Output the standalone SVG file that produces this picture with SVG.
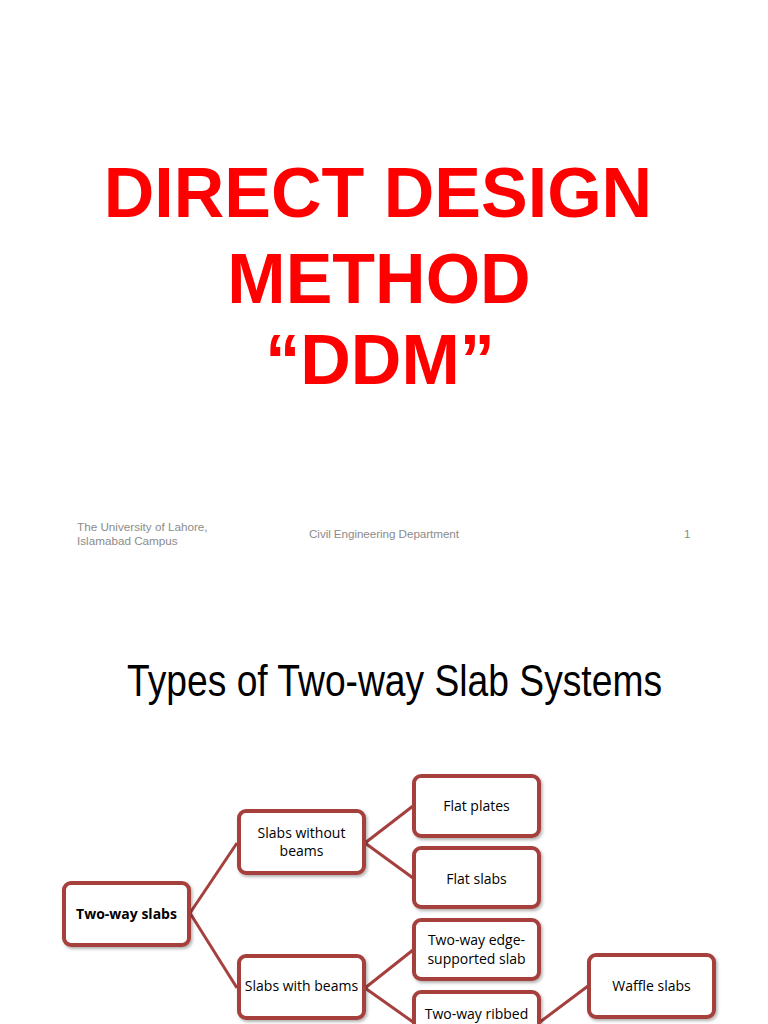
<svg xmlns="http://www.w3.org/2000/svg" width="768" height="1024" viewBox="0 0 768 1024">
<defs>
<filter id="sh" x="-10%" y="-10%" width="125%" height="130%">
<feDropShadow dx="1.5" dy="2" stdDeviation="1.5" flood-color="#000" flood-opacity="0.3"/>
</filter>
</defs>
<style>
.title{font-family:"Liberation Sans",Arial,sans-serif;font-weight:bold;font-size:70px;fill:#ff0000;text-anchor:middle}
.foot{font-family:"Liberation Sans",Arial,sans-serif;font-size:11.7px;fill:#8c8c8c}
.sub{font-family:"Liberation Sans",Arial,sans-serif;font-size:44px;fill:#000}
.box{fill:#fff;stroke:#a5403e;stroke-width:4;filter:url(#sh)}
.lbl{font-family:"Open Sans","Liberation Sans",sans-serif;font-size:14px;fill:#000;text-anchor:middle}
.conn{stroke:#a5403e;stroke-width:3;fill:none}
</style>
<rect width="768" height="1024" fill="#fff"/>
<text class="title" x="378" y="217">DIRECT DESIGN</text>
<text class="title" x="379" y="303">METHOD</text>
<text class="title" x="380" y="384">“DDM”</text>
<text class="foot" x="77" y="531">The University of Lahore,</text>
<text class="foot" x="77" y="545">Islamabad Campus</text>
<text class="foot" x="309" y="538" textLength="150">Civil Engineering Department</text>
<text class="foot" x="684" y="538">1</text>
<text class="sub" x="127" y="696" textLength="535" lengthAdjust="spacingAndGlyphs">Types of Two-way Slab Systems</text>
<g id="connectors">
<line class="conn" x1="190" y1="913" x2="237" y2="843"/>
<line class="conn" x1="190" y1="913" x2="237" y2="988"/>
<line class="conn" x1="365" y1="843" x2="413" y2="806"/>
<line class="conn" x1="365" y1="843" x2="413" y2="878"/>
<line class="conn" x1="365" y1="988" x2="413" y2="950"/>
<line class="conn" x1="365" y1="988" x2="413" y2="1022"/>
<line class="conn" x1="540" y1="1022" x2="588" y2="986"/>
</g>
<g id="n-twoway"><rect class="box" x="64" y="883" width="125" height="62" rx="7"/><text class="lbl" x="126.5" y="919" font-weight="bold">Two-way slabs</text></g>
<g id="n-without"><rect class="box" x="239" y="811" width="125" height="62" rx="7"/><text class="lbl" x="301.5" y="838">Slabs without</text><text class="lbl" x="301.5" y="856">beams</text></g>
<g id="n-with"><rect class="box" x="239" y="956" width="125" height="62" rx="7"/><text class="lbl" x="301.5" y="991">Slabs with beams</text></g>
<g id="n-flatplates"><rect class="box" x="414" y="776" width="125" height="60" rx="7"/><text class="lbl" x="476.5" y="811">Flat plates</text></g>
<g id="n-flatslabs"><rect class="box" x="414" y="848" width="125" height="59" rx="7"/><text class="lbl" x="476.5" y="884">Flat slabs</text></g>
<g id="n-edge"><rect class="box" x="414" y="920" width="125" height="59" rx="7"/><text class="lbl" x="476.5" y="945">Two-way edge-</text><text class="lbl" x="476.5" y="964">supported slab</text></g>
<g id="n-ribbed"><rect class="box" x="414" y="992" width="125" height="50" rx="7"/><text class="lbl" x="476.5" y="1019">Two-way ribbed</text></g>
<g id="n-waffle"><rect class="box" x="589" y="955" width="125" height="62" rx="7"/><text class="lbl" x="651.5" y="991">Waffle slabs</text></g>
</svg>
